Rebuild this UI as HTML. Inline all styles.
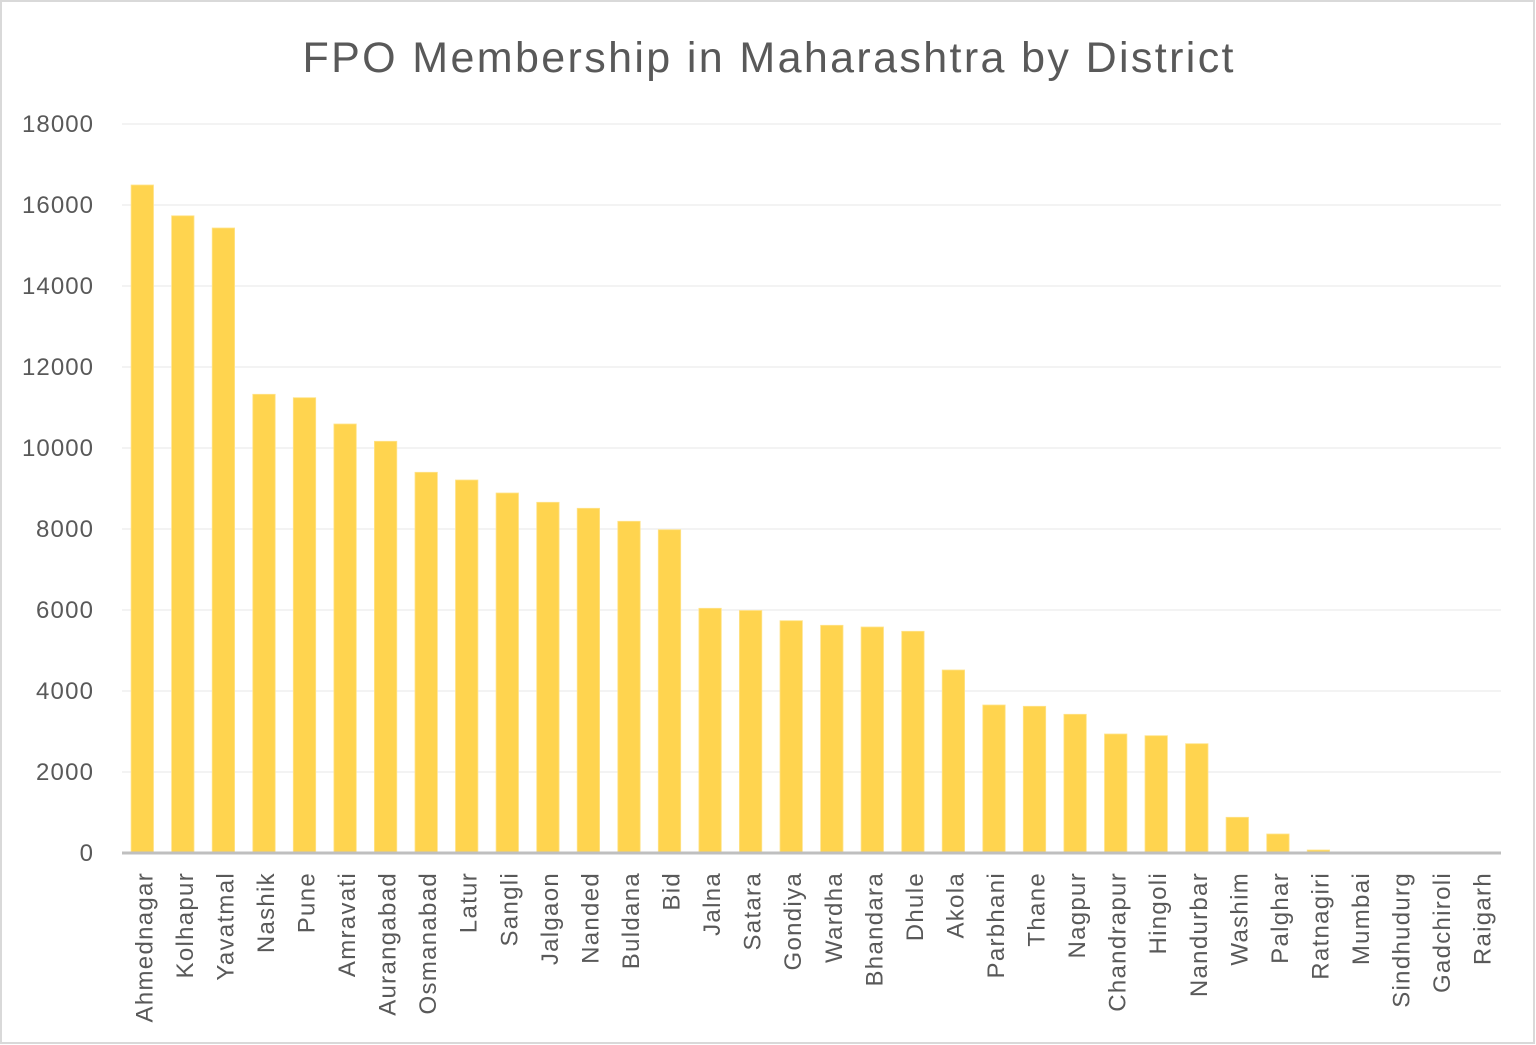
<!DOCTYPE html>
<html>
<head>
<meta charset="utf-8">
<style>
  html,body{margin:0;padding:0;background:#fff;}
  svg{display:block;}
  text{font-family:"Liberation Sans", sans-serif; fill:#595959;}
</style>
</head>
<body>
<svg width="1536" height="1045" viewBox="0 0 1536 1045" xmlns="http://www.w3.org/2000/svg">
  <rect x="1" y="1" width="1533" height="1042" fill="#fff" stroke="#d9d9d9" stroke-width="2"/>
  <text x="768" y="72" font-size="43" text-anchor="middle" textLength="931" lengthAdjust="spacing">FPO Membership in Maharashtra by District</text>

  <g stroke="#efefef" stroke-width="1.5">
    <line x1="122" x2="1501" y1="124" y2="124"/>
    <line x1="122" x2="1501" y1="205" y2="205"/>
    <line x1="122" x2="1501" y1="286" y2="286"/>
    <line x1="122" x2="1501" y1="367" y2="367"/>
    <line x1="122" x2="1501" y1="448" y2="448"/>
    <line x1="122" x2="1501" y1="529" y2="529"/>
    <line x1="122" x2="1501" y1="610" y2="610"/>
    <line x1="122" x2="1501" y1="691" y2="691"/>
    <line x1="122" x2="1501" y1="772" y2="772"/>
  </g>

  <g font-size="24" text-anchor="end">
    <text x="93" y="132" textLength="71" lengthAdjust="spacing">18000</text>
    <text x="93" y="213" textLength="71" lengthAdjust="spacing">16000</text>
    <text x="93" y="294" textLength="71" lengthAdjust="spacing">14000</text>
    <text x="93" y="375" textLength="71" lengthAdjust="spacing">12000</text>
    <text x="93" y="456" textLength="71" lengthAdjust="spacing">10000</text>
    <text x="93" y="537" textLength="57" lengthAdjust="spacing">8000</text>
    <text x="93" y="618" textLength="57" lengthAdjust="spacing">6000</text>
    <text x="93" y="699" textLength="57" lengthAdjust="spacing">4000</text>
    <text x="93" y="780" textLength="57" lengthAdjust="spacing">2000</text>
    <text x="93" y="861">0</text>
  </g>

  <g fill="#FFD44F" stroke="#FFE38A" stroke-width="0.8">
    <rect x="131.1" y="185.0" width="22.4" height="668.0"/>
    <rect x="171.6" y="215.8" width="22.4" height="637.2"/>
    <rect x="212.2" y="228.0" width="22.4" height="625.0"/>
    <rect x="252.8" y="394.3" width="22.4" height="458.7"/>
    <rect x="293.3" y="397.7" width="22.4" height="455.3"/>
    <rect x="333.9" y="424.0" width="22.4" height="429.0"/>
    <rect x="374.4" y="441.3" width="22.4" height="411.7"/>
    <rect x="415.0" y="472.3" width="22.4" height="380.7"/>
    <rect x="455.5" y="480.0" width="22.4" height="373.0"/>
    <rect x="496.1" y="493.0" width="22.4" height="360.0"/>
    <rect x="536.7" y="502.3" width="22.4" height="350.7"/>
    <rect x="577.2" y="508.3" width="22.4" height="344.7"/>
    <rect x="617.8" y="521.3" width="22.4" height="331.7"/>
    <rect x="658.3" y="529.7" width="22.4" height="323.3"/>
    <rect x="698.9" y="608.3" width="22.4" height="244.7"/>
    <rect x="739.4" y="610.5" width="22.4" height="242.5"/>
    <rect x="780.0" y="620.7" width="22.4" height="232.3"/>
    <rect x="820.6" y="625.3" width="22.4" height="227.7"/>
    <rect x="861.1" y="627.0" width="22.4" height="226.0"/>
    <rect x="901.7" y="631.3" width="22.4" height="221.7"/>
    <rect x="942.2" y="670.0" width="22.4" height="183.0"/>
    <rect x="982.8" y="705.0" width="22.4" height="148.0"/>
    <rect x="1023.3" y="706.3" width="22.4" height="146.7"/>
    <rect x="1063.9" y="714.3" width="22.4" height="138.7"/>
    <rect x="1104.5" y="734.0" width="22.4" height="119.0"/>
    <rect x="1145.0" y="735.7" width="22.4" height="117.3"/>
    <rect x="1185.6" y="743.7" width="22.4" height="109.3"/>
    <rect x="1226.1" y="817.3" width="22.4" height="35.7"/>
    <rect x="1266.7" y="834.0" width="22.4" height="19.0"/>
    <rect x="1307.2" y="850.0" width="22.4" height="3.0"/>
  </g>

  <line x1="122" x2="1501" y1="853" y2="853" stroke="#bfbfbf" stroke-width="3"/>

  <g font-size="24" text-anchor="end" letter-spacing="1.3">
    <text transform="translate(152.3,872) rotate(-90)">Ahmednagar</text>
    <text transform="translate(192.8,872) rotate(-90)">Kolhapur</text>
    <text transform="translate(233.4,872) rotate(-90)">Yavatmal</text>
    <text transform="translate(274.0,872) rotate(-90)">Nashik</text>
    <text transform="translate(314.5,872) rotate(-90)">Pune</text>
    <text transform="translate(355.1,872) rotate(-90)">Amravati</text>
    <text transform="translate(395.6,872) rotate(-90)">Aurangabad</text>
    <text transform="translate(436.2,872) rotate(-90)">Osmanabad</text>
    <text transform="translate(476.7,872) rotate(-90)">Latur</text>
    <text transform="translate(517.3,872) rotate(-90)">Sangli</text>
    <text transform="translate(557.9,872) rotate(-90)">Jalgaon</text>
    <text transform="translate(598.4,872) rotate(-90)">Nanded</text>
    <text transform="translate(639.0,872) rotate(-90)">Buldana</text>
    <text transform="translate(679.5,872) rotate(-90)">Bid</text>
    <text transform="translate(720.1,872) rotate(-90)">Jalna</text>
    <text transform="translate(760.6,872) rotate(-90)">Satara</text>
    <text transform="translate(801.2,872) rotate(-90)">Gondiya</text>
    <text transform="translate(841.8,872) rotate(-90)">Wardha</text>
    <text transform="translate(882.3,872) rotate(-90)">Bhandara</text>
    <text transform="translate(922.9,872) rotate(-90)">Dhule</text>
    <text transform="translate(963.4,872) rotate(-90)">Akola</text>
    <text transform="translate(1004.0,872) rotate(-90)">Parbhani</text>
    <text transform="translate(1044.5,872) rotate(-90)">Thane</text>
    <text transform="translate(1085.1,872) rotate(-90)">Nagpur</text>
    <text transform="translate(1125.7,872) rotate(-90)">Chandrapur</text>
    <text transform="translate(1166.2,872) rotate(-90)">Hingoli</text>
    <text transform="translate(1206.8,872) rotate(-90)">Nandurbar</text>
    <text transform="translate(1247.3,872) rotate(-90)">Washim</text>
    <text transform="translate(1287.9,872) rotate(-90)">Palghar</text>
    <text transform="translate(1328.4,872) rotate(-90)">Ratnagiri</text>
    <text transform="translate(1369.0,872) rotate(-90)">Mumbai</text>
    <text transform="translate(1409.6,872) rotate(-90)">Sindhudurg</text>
    <text transform="translate(1450.1,872) rotate(-90)">Gadchiroli</text>
    <text transform="translate(1490.7,872) rotate(-90)">Raigarh</text>
  </g>
</svg>
</body>
</html>
